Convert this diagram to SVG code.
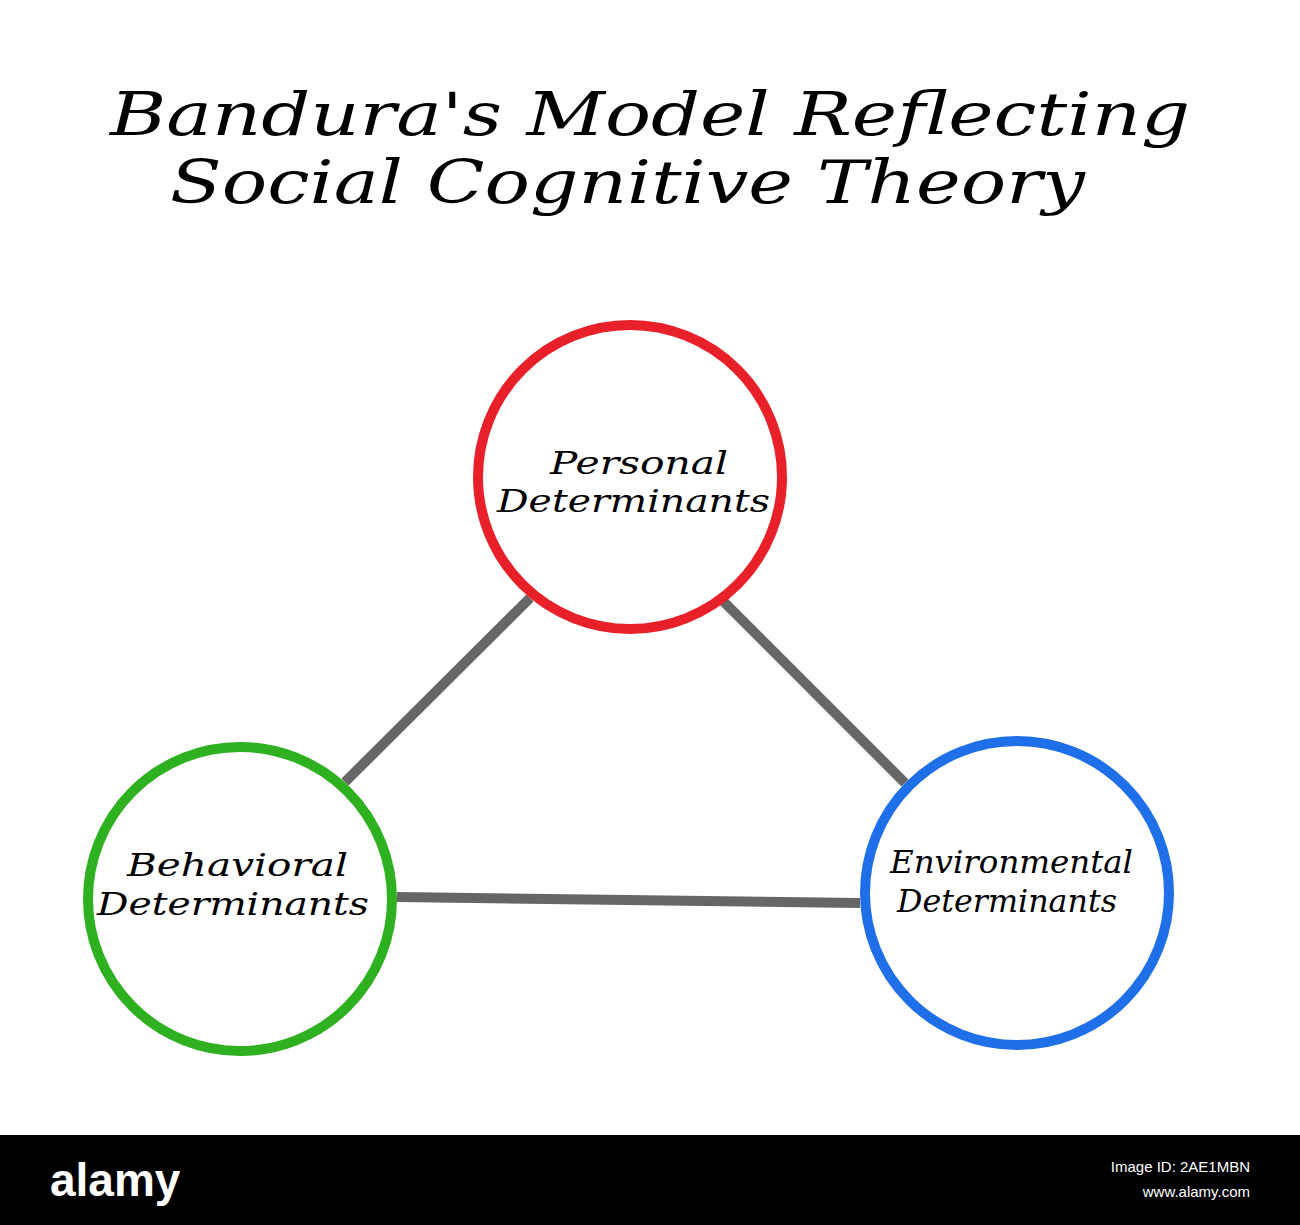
<svg xmlns="http://www.w3.org/2000/svg" width="1300" height="1225" viewBox="0 0 1300 1225">
<style>
.t{font-family:"DejaVu Serif",serif;font-style:italic;fill:#000}
.title{font-size:60px}
.lab{font-size:32px}
.c{fill:#fff;stroke-width:10}
.e{stroke:#666;stroke-width:10}
</style>
<rect width="1300" height="1225" fill="#fff"/>
<text class="t title" x="110" y="135" textLength="1080" lengthAdjust="spacingAndGlyphs">Bandura's Model Reflecting</text>
<text class="t title" x="170" y="203" textLength="915" lengthAdjust="spacingAndGlyphs">Social Cognitive Theory</text>
<g id="connectors">
<line class="e" x1="530" y1="598" x2="345" y2="782"/>
<line class="e" x1="722" y1="600" x2="905" y2="783"/>
<line class="e" x1="397" y1="897" x2="860" y2="903"/>
</g>
<g id="personal">
<circle class="c" cx="630" cy="477" r="152" stroke="#e8202a"/>
<text class="t lab" x="550" y="474" textLength="178" lengthAdjust="spacingAndGlyphs">Personal</text>
<text class="t lab" x="497" y="512" textLength="273" lengthAdjust="spacingAndGlyphs">Determinants</text>
</g>
<g id="behavioral">
<circle class="c" cx="240" cy="899" r="152" stroke="#2eb020"/>
<text class="t lab" x="127" y="876" textLength="221" lengthAdjust="spacingAndGlyphs">Behavioral</text>
<text class="t lab" x="97" y="915" textLength="272" lengthAdjust="spacingAndGlyphs">Determinants</text>
</g>
<g id="environmental">
<circle class="c" cx="1017" cy="893" r="152" stroke="#1f6fe8"/>
<text class="t lab" x="890" y="873" textLength="243" lengthAdjust="spacingAndGlyphs">Environmental</text>
<text class="t lab" x="897" y="912" textLength="220" lengthAdjust="spacingAndGlyphs">Determinants</text>
</g>
<g id="watermark">
<rect x="0" y="1135" width="1300" height="90" fill="#000"/>
<text x="50" y="1196" font-family="Liberation Sans,sans-serif" font-size="46" font-weight="bold" fill="#fff">alamy</text>
<text x="1250" y="1172" font-family="Liberation Sans,sans-serif" font-size="15" fill="#fff" text-anchor="end">Image ID: 2AE1MBN</text>
<text x="1250" y="1197" font-family="Liberation Sans,sans-serif" font-size="15" fill="#fff" text-anchor="end">www.alamy.com</text>
</g>
</svg>
